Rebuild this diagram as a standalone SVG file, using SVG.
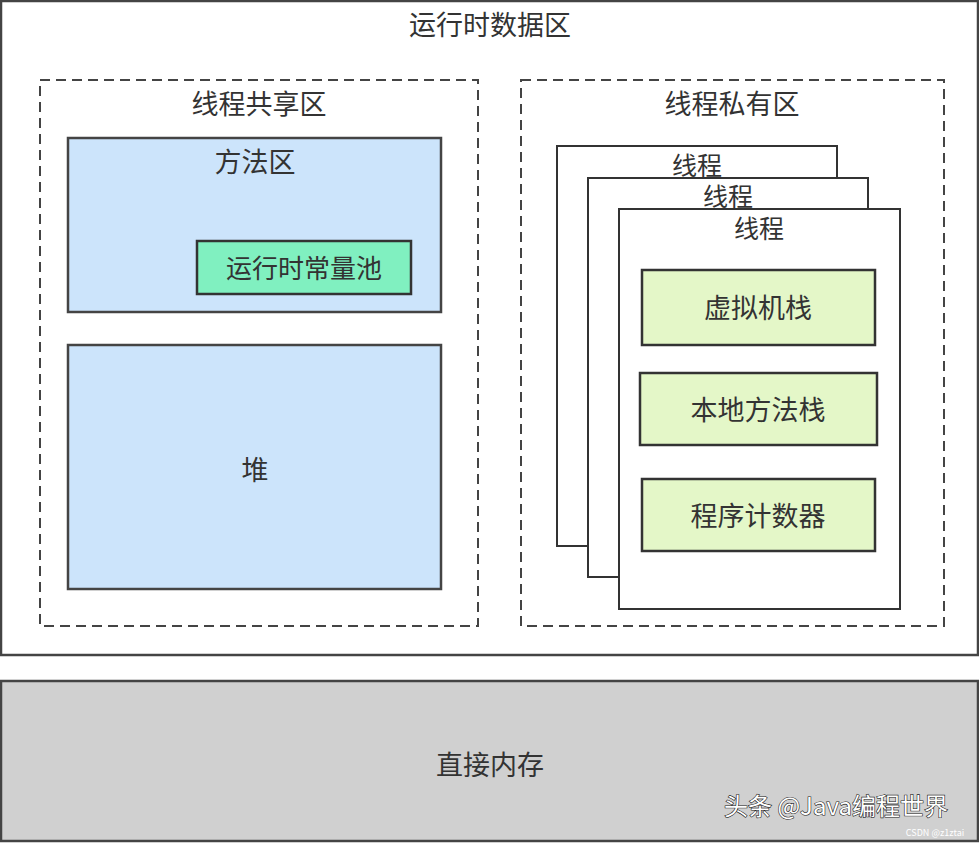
<svg xmlns="http://www.w3.org/2000/svg" width="979" height="844" viewBox="0 0 979 844">
<style>
text{font-family:"Noto Sans CJK SC","Liberation Sans",sans-serif;fill:#333;text-anchor:middle}
.t{font-size:27px}
.dash{fill:none;stroke:#444;stroke-width:2;stroke-dasharray:10,6}
.blue{fill:#cce4fb;stroke:#444;stroke-width:2.5}
.thr{fill:#fff;stroke:#333;stroke-width:2}
.grn{fill:#e4f7c8;stroke:#333;stroke-width:2.5}
</style>
<rect width="979" height="844" fill="#fff"/>
<g id="runtime"><rect x="1" y="1" width="977" height="654" fill="#fff" stroke="#444" stroke-width="2.5"/><text class="t" x="490" y="35">运行时数据区</text></g>
<g id="shared"><rect class="dash" x="40" y="80" width="438" height="546"/><text class="t" x="259" y="114">线程共享区</text></g>
<g id="method"><rect class="blue" x="68" y="138" width="373" height="174"/><text class="t" x="255" y="172">方法区</text></g>
<g id="pool"><rect x="197" y="241" width="214" height="53" fill="#80f0c0" stroke="#333" stroke-width="2.5"/><text x="304" y="278" font-size="26">运行时常量池</text></g>
<g id="heap"><rect class="blue" x="68" y="345" width="373" height="244"/><text class="t" x="255" y="480">堆</text></g>
<g id="private"><rect class="dash" x="521" y="80" width="423" height="546"/><text class="t" x="732" y="114">线程私有区</text></g>
<g id="t1"><rect class="thr" x="557" y="146" width="280" height="400"/><text x="697" y="175" font-size="25">线程</text></g>
<g id="t2"><rect class="thr" x="588" y="178" width="280" height="399"/><text x="728" y="206" font-size="25">线程</text></g>
<g id="t3"><rect class="thr" x="619" y="209" width="281" height="400"/><text x="759" y="238" font-size="25">线程</text></g>
<g id="vms"><rect class="grn" x="642" y="270" width="233" height="75"/><text class="t" x="758" y="318">虚拟机栈</text></g>
<g id="nms"><rect class="grn" x="640" y="373" width="237" height="72"/><text class="t" x="758" y="420">本地方法栈</text></g>
<g id="pc"><rect class="grn" x="642" y="479" width="233" height="72"/><text class="t" x="758" y="526">程序计数器</text></g>
<g id="direct"><rect x="1" y="681" width="977" height="160" fill="#d0d0d0" stroke="#444" stroke-width="2.5"/><text class="t" x="490" y="775">直接内存</text></g>
<g id="connectors"/>
<text x="836" y="815" font-size="24" style="fill:#fff;stroke:#222;stroke-width:1.2;paint-order:stroke">头条 @Java编程世界</text>
<text x="935" y="836" font-size="9" style="fill:#fff">CSDN @z1ztai</text>
</svg>
